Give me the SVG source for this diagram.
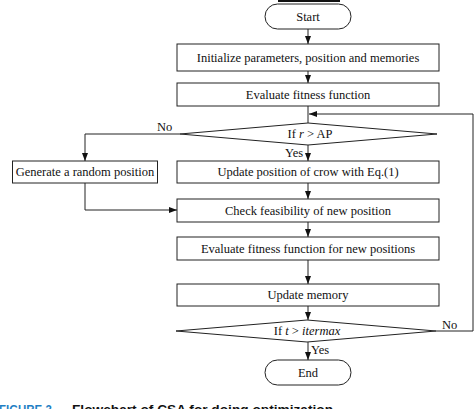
<svg xmlns="http://www.w3.org/2000/svg" width="474" height="409" viewBox="0 0 474 409">
<style>
.b{fill:#fff;stroke:#222;stroke-width:1}
.t{font-family:"Liberation Serif","Times New Roman",serif;font-size:12.5px;fill:#111;text-anchor:middle}
.l{font-family:"Liberation Serif","Times New Roman",serif;font-size:12.5px;fill:#111}
.c{fill:none;stroke:#222;stroke-width:1}
</style>
<defs>
<marker id="a" markerWidth="8" markerHeight="6" refX="8" refY="3" orient="auto" markerUnits="userSpaceOnUse">
<path d="M0,0 L8,3 L0,6 Z" fill="#111"/>
</marker>
</defs>
<rect width="474" height="409" fill="#fff"/>
<rect x="278" y="0" width="62" height="2" fill="#111"/>
<g id="connectors">
<line class="c" x1="308" y1="29" x2="308" y2="44" marker-end="url(#a)"/>
<line class="c" x1="308" y1="71" x2="308" y2="83" marker-end="url(#a)"/>
<line class="c" x1="308" y1="106" x2="308" y2="123"/>
<polyline class="c" points="436,331 473,331 473,114 309,114" marker-end="url(#a)"/>
<polyline class="c" points="180,134 85,134 85,161" marker-end="url(#a)"/>
<line class="c" x1="308" y1="145" x2="308" y2="161" marker-end="url(#a)"/>
<line class="c" x1="308" y1="183" x2="308" y2="199" marker-end="url(#a)"/>
<polyline class="c" points="85,183 85,210 177,210" marker-end="url(#a)"/>
<line class="c" x1="308" y1="222" x2="308" y2="237" marker-end="url(#a)"/>
<line class="c" x1="308" y1="260" x2="308" y2="284" marker-end="url(#a)"/>
<line class="c" x1="308" y1="306" x2="308" y2="320" marker-end="url(#a)"/>
<line class="c" x1="308" y1="342" x2="308" y2="360" marker-end="url(#a)"/>
<text class="l" x="157" y="131">No</text>
<text class="l" x="285" y="157">Yes</text>
<text class="l" x="442" y="329">No</text>
<text class="l" x="311" y="354">Yes</text>
</g>
<g id="start">
<rect class="b" x="265" y="4" width="86" height="25" rx="12.5"/>
<text class="t" x="308" y="21">Start</text>
</g>
<g id="init">
<rect class="b" x="177" y="44" width="262" height="27"/>
<text class="t" x="308" y="62">Initialize parameters, position and memories</text>
</g>
<g id="eval">
<rect class="b" x="177" y="83" width="262" height="23"/>
<text class="t" x="308" y="99">Evaluate fitness function</text>
</g>
<g id="cond1">
<polygon class="b" points="308,123 437,134 308,145 180,134"/>
<text class="t" x="310" y="138">If <tspan font-style="italic">r</tspan> &gt; AP</text>
</g>
<g id="random">
<rect class="b" x="12.5" y="161" width="145" height="22"/>
<text class="t" x="85" y="176">Generate a random position</text>
</g>
<g id="update">
<rect class="b" x="177" y="161" width="262" height="22"/>
<text class="t" x="308" y="176">Update position of crow with Eq.(1)</text>
</g>
<g id="check">
<rect class="b" x="177" y="199" width="262" height="23"/>
<text class="t" x="308" y="215">Check feasibility of new position</text>
</g>
<g id="eval2">
<rect class="b" x="177" y="237" width="262" height="23"/>
<text class="t" x="308" y="253">Evaluate fitness function for new positions</text>
</g>
<g id="memory">
<rect class="b" x="177" y="284" width="262" height="22"/>
<text class="t" x="308" y="299">Update memory</text>
</g>
<g id="cond2">
<polygon class="b" points="307,320 436,331 307,342 176,331"/>
<text class="t" x="307" y="335">If <tspan font-style="italic">t</tspan> &gt; <tspan font-style="italic">itermax</tspan></text>
</g>
<g id="end">
<rect class="b" x="265" y="360" width="86" height="25" rx="12.5"/>
<text class="t" x="308" y="377">End</text>
</g>
<g id="caption" font-family="'Liberation Sans',Arial,sans-serif" font-weight="bold" font-size="13">
<text x="-1" y="414" fill="#1f7fc4" textLength="56" lengthAdjust="spacingAndGlyphs">FIGURE 3.</text>
<text x="72" y="414" fill="#111" textLength="261" lengthAdjust="spacingAndGlyphs">Flowchart of CSA for doing optimization</text>
</g>
</svg>
